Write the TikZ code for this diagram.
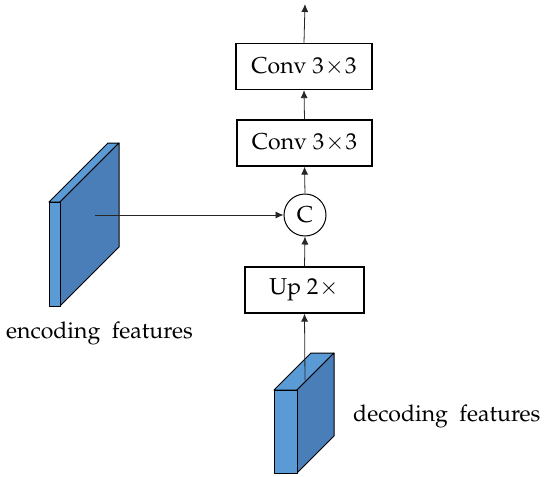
\documentclass[tikz,border=0pt]{standalone}
\usepackage[T1]{fontenc}
\usepackage{mathpazo}
\usetikzlibrary{arrows.meta}
\definecolor{lightb}{HTML}{5B9BD5}
\definecolor{darkb}{HTML}{4A7EB8}
\newcommand{\tms}{\kern1pt{\times}\kern1pt}
\begin{document}
\begin{tikzpicture}[x=1pt,y=-1pt,
  blk/.style={draw=black,line width=1.2pt,minimum width=#1,minimum height=46pt,inner sep=0pt,font=\fontsize{23}{26}\selectfont},
  conn/.style={draw=black!85,line width=0.8pt,-{Latex[length=8pt,width=7pt]}},
  slab/.style={draw=black,line width=1pt,line join=round},
  lbl/.style={font=\fontsize{23}{26}\selectfont,inner sep=0pt}]
\useasboundingbox (0,0) rectangle (550,477);
% boxes
\node[blk=136pt] (conv2) at (304,66.5) {Conv 3$\tms$3};
\node[blk=135pt] (conv1) at (304.5,143) {Conv 3$\tms$3};
\node[draw=black,line width=1pt,circle,minimum size=42pt,inner sep=0pt,font=\fontsize{23}{26}\selectfont] (cat) at (305,215) {C};
\node[blk=119pt] (up) at (304.5,290) {Up 2$\tms$};
\coordinate (out) at (305,4);
% encoding slab
\fill[lightb,slab] (49,202) -- (60,202) -- (119,143) -- (108,143) -- cycle;
\fill[darkb,slab] (60,202) -- (119,143) -- (119,247) -- (60,306) -- cycle;
\fill[lightb,slab] (49,202) rectangle (60,306);
\coordinate (enc) at (95,215);
% decoding slab
\fill[lightb,slab] (274,390) -- (297,390) -- (334,353) -- (311,353) -- cycle;
\fill[darkb,slab] (297,390) -- (334,353) -- (334,436) -- (297,473) -- cycle;
\fill[lightb,slab] (274,390) rectangle (297,473);
\coordinate (dec) at (305,380);
% connectors
\draw[conn] (dec) -- (up.south);
\draw[conn] (up.north) -- (cat.south);
\draw[conn] (enc) -- (cat.west);
\draw[conn] (cat.north) -- (conv1.south);
\draw[conn] (conv1.north) -- (conv2.south);
\draw[conn] (conv2.north) -- (out);
% labels
\node[lbl,anchor=base west] (encl) at (6,338) {encoding\ \ features};
\node[lbl,anchor=base west] (decl) at (353,421) {decoding\ \ features};
\end{tikzpicture}
\end{document}
